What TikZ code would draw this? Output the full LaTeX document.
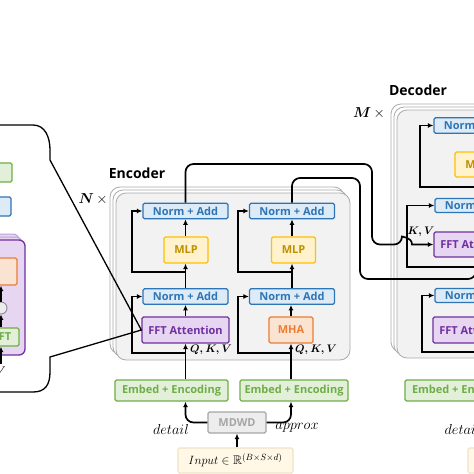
\documentclass[tikz,border=0pt]{standalone}
\usepackage{amsmath}
\usepackage{amssymb}
\usepackage{fontspec}
\newfontfamily\boxfont{Open Sans}
\usepackage{tikz}
\usetikzlibrary{arrows.meta}

\definecolor{normBlue}{HTML}{2E75B6}
\definecolor{normFill}{HTML}{DDEBF7}
\definecolor{mlpGold}{HTML}{FFC000}
\definecolor{mlpFill}{HTML}{FFF2CC}
\definecolor{mlpText}{HTML}{BF9000}
\definecolor{fftPurple}{HTML}{7030A0}
\definecolor{fftFill}{HTML}{E6D6F2}
\definecolor{mhaOrange}{HTML}{ED7D31}
\definecolor{mhaFill}{HTML}{FBE3D2}
\definecolor{embGreen}{HTML}{70AD47}
\definecolor{embFill}{HTML}{E2F0D9}
\definecolor{wdGray}{HTML}{A6A6A6}
\definecolor{wdFill}{HTML}{EDEDED}
\definecolor{inFill}{HTML}{FFF8E6}
\definecolor{inLine}{HTML}{F0E4C6}
\definecolor{stackFill}{HTML}{F2F2F2}
\definecolor{stackLine}{HTML}{ABABAB}

\begin{document}
\begin{tikzpicture}[x=1pt, y=-1pt, >={Latex[length=5.5pt,width=5pt]},
	box/.style={draw, line width=1.3pt, rounded corners=1.5pt, inner sep=0pt, font=\boxfont\bfseries\fontsize{11}{13}\selectfont},
	normbox/.style={box, draw=normBlue, fill=normFill, text=normBlue, minimum width=85pt, minimum height=15.5pt},
	mlpbox/.style={box, draw=mlpGold, fill=mlpFill, text=mlpText, minimum width=44pt, minimum height=26pt},
	fftbox/.style={box, draw=fftPurple, fill=fftFill, text=fftPurple, minimum width=87pt, minimum height=26pt},
	mhabox/.style={box, draw=mhaOrange, fill=mhaFill, text=mhaOrange, minimum width=44pt, minimum height=26pt},
	embbox/.style={box, draw=embGreen, fill=embFill, text=embGreen, minimum width=113pt, minimum height=21pt},
	wdbox/.style={box, draw=wdGray, fill=wdFill, text=wdGray, minimum width=58pt, minimum height=21pt},
	inbox/.style={box, draw=inLine, fill=inFill, text=black, minimum width=115pt, minimum height=25pt, font=\fontsize{12.5}{14}\selectfont},
	stack/.style={draw=stackLine, line width=0.8pt, rounded corners=10pt},
	title/.style={font=\boxfont\bfseries\fontsize{14}{16}\selectfont},
	lbl/.style={inner sep=1pt, font=\fontsize{10.5}{12}\selectfont},
	side/.style={inner sep=1pt, font=\fontsize{13.5}{15}\selectfont},
	wire/.style={line width=1.7pt},
	conn/.style={wire, ->}]
	\useasboundingbox (0,0) rectangle (474,474);
	\clip (0,0) rectangle (474,474);

	% Encoder stack
	\draw[stack, fill=white] (110,187) rectangle (344,354);
	\draw[stack, fill=white] (113,190) rectangle (347,357);
	\draw[stack, fill=stackFill] (116,193) rectangle (350,360);
	\node[title] (encTitle) at (137,173) {Encoder};
	\node[side] (encRep) at (93,199) {$\boldsymbol{N}\,\times$};

	% Decoder stack
	\draw[stack, fill=white] (391,104) rectangle (700,352);
	\draw[stack, fill=white] (394,107) rectangle (703,355);
	\draw[stack, fill=stackFill] (397,110) rectangle (706,358);
	\node[title] (decTitle) at (418,90) {Decoder};
	\node[side] (decRep) at (369,113) {$\boldsymbol{M}\,\times$};

	% Encoder, first branch
	\node[normbox] (encNormA1) at (185.5,211) {Norm + Add};
	\node[mlpbox] (encMLP1) at (186,250) {MLP};
	\node[normbox] (encNormB1) at (185.5,296.5) {Norm + Add};
	\node[fftbox] (encFFT) at (185.5,330) {FFT Attention};
	\node[embbox] (encEmb1) at (171.5,390.5) {Embed + Encoding};
	\node[lbl, anchor=west] (encQKV1) at (189,350) {$\boldsymbol{Q,K,V}$};

	% Encoder, second branch
	\node[normbox] (encNormA2) at (292,211) {Norm + Add};
	\node[mlpbox] (encMLP2) at (293.5,250) {MLP};
	\node[normbox] (encNormB2) at (292,296.5) {Norm + Add};
	\node[mhabox] (encMHA) at (291,330) {MHA};
	\node[embbox, minimum width=108pt] (encEmb2) at (294,390.5) {Embed + Encoding};
	\node[lbl, anchor=west] (encQKV2) at (294,350) {$\boldsymbol{Q,K,V}$};

	% Wavelet split and input
	\node[wdbox] (encMDWD) at (237,422.5) {MDWD};
	\node[side] (encDetail) at (171,429) {$detail$};
	\node[side] (encApprox) at (297,428) {$approx$};
	\node[inbox] (encIn) at (235.5,460.5) {$Input\in\mathbb{R}^{(B\times S\times d)}$};

	% Encoder arrows
	\draw[conn] (encFFT.south |- encEmb1.north) -- (encFFT.south);
	\draw[conn] (encFFT.north) -- (encNormB1.south);
	\draw[conn] (encNormB1.north) -- (encMLP1.south -| encNormB1.north);
	\draw[conn] (encMLP1.north -| encNormA1.south) -- (encNormA1.south);
	\draw[conn] (encMHA.south |- encEmb2.north) -- (encMHA.south);
	\draw[conn] (encMHA.north) -- (encNormB2.south -| encMHA.north);
	\draw[conn] (encNormB2.north) -- (encMLP2.south -| encNormB2.north);
	\draw[conn] (encMLP2.north -| encNormA2.south) -- (encNormA2.south);
	\draw[conn, rounded corners=8pt] (encMDWD.west) -| (encFFT.south |- encEmb1.south);
	\draw[conn, rounded corners=8pt] (encMDWD.east) -| (encMHA.south |- encEmb2.south);
	\draw[conn] (encMDWD.south |- encIn.north) -- (encMDWD.south);

	% Encoder residuals
	\coordinate (encTapB1) at (185.5,353);
	\coordinate (encTapA1) at (185.5,272);
	\coordinate (encTapB2) at (291,353);
	\coordinate (encTapA2) at (292,272);
	\draw[conn] (encTapB1) -- (132,353) |- (encNormB1.west);
	\draw[conn] (encTapA1) -- (132,272) |- (encNormA1.west);
	\draw[conn] (encTapB2) -- (238,353) |- (encNormB2.west);
	\draw[conn] (encTapA2) -- (238,272) |- (encNormA2.west);

	% Decoder
	\node[normbox] (decNormA) at (476.5,125.5) {Norm + Add};
	\node[mlpbox, minimum height=25pt] (decMLP) at (477,164.5) {MLP};
	\node[normbox, minimum height=14pt] (decNormB) at (477.5,205.5) {Norm + Add};
	\node[fftbox, minimum height=25pt] (decCross) at (477.5,244.5) {FFT Attention};
	\node[normbox, minimum height=14pt] (decNormC) at (477.5,295.5) {Norm + Add};
	\node[fftbox] (decSelf) at (476.5,330) {FFT Attention};
	\node[embbox] (decEmb) at (461.5,390.5) {Embed + Encoding};
	\node[side] (decDetail) at (462.5,429) {$detail$};
	\node[inbox] (decIn) at (525.5,460.5) {$Input\in\mathbb{R}^{(B\times S\times d)}$};
	\node[lbl] (decKV) at (421,232) {$\boldsymbol{K,V}$};

	% Decoder residuals
	\coordinate (decTapA) at (476.5,187);
	\coordinate (decTapB) at (477.5,267);
	\coordinate (decTapC) at (476.5,352);
	\draw[conn] (decTapA) -- (420,187) |- (decNormA.west);
	\draw[conn] (decTapB) -- (407,267) |- (decNormB.west);
	\draw[conn] (decTapC) -- (422,352) |- (decNormC.west);

	% Encoder to decoder
	\coordinate (kvBend) at (372,164);
	\coordinate (qBend) at (360,178);
	\draw[conn, rounded corners=8pt] (encNormA1.north) |- (kvBend) -- (kvBend |- decCross.west) -- (402,244.5)
		[sharp corners] .. controls (402,237) and (412,237) .. (412,244.5) -- (decCross.west);
	\draw[wire, rounded corners=8pt] (encNormA2.north) |- (qBend) -- (360,279) -- (476,279) -- (476,150);

	% Zoomed FFT attention
	\node[box, draw=embGreen, fill=embFill, minimum width=72pt, minimum height=19pt] (cutEmb) at (-24,172.5) {};
	\node[normbox, minimum width=71pt, minimum height=19pt] (cutNorm) at (-24.5,206.5) {};
	\draw[draw=fftPurple!45, fill=fftFill, line width=1pt, rounded corners=6pt] (-100,234) rectangle (19,349);
	\draw[draw=fftPurple!45, fill=fftFill, line width=1pt, rounded corners=6pt] (-100,237) rectangle (22,352);
	\draw[draw=fftPurple, fill=fftFill, line width=1.3pt, rounded corners=6pt] (-100,240) rectangle (25,355);
	\node[mhabox, minimum width=77pt, minimum height=27pt] (cutMha) at (-21.5,271.5) {};
	\node[circle, draw=gray, fill=gray!15, line width=0.8pt, minimum size=12pt, inner sep=0pt] (cutMul) at (1,308) {};
	\node[embbox, minimum width=34pt, minimum height=18pt] (cutFft) at (2,337) {FFT};
	\coordinate (cutIn) at (1,364);
	\draw[conn] (cutMul.north) -- (cutMul |- cutMha.south);
	\draw[conn] (cutMul |- cutFft.north) -- (cutMul.south);
	\draw[conn] (cutIn) -- (cutMul |- cutFft.south);
	\node[lbl, anchor=east] (cutQKV) at (7,372) {$\boldsymbol{Q,K,V}$};

	% Callout
	\draw[line width=1.3pt] (0,125) -- (33,125) .. controls (45,125) and (50,137) .. (50,150) -- (50,160) -- (encFFT.west)
		-- (50,357) -- (50,372) .. controls (50,385) and (45,392) .. (33,392) -- (0,392);
\end{tikzpicture}
\end{document}
